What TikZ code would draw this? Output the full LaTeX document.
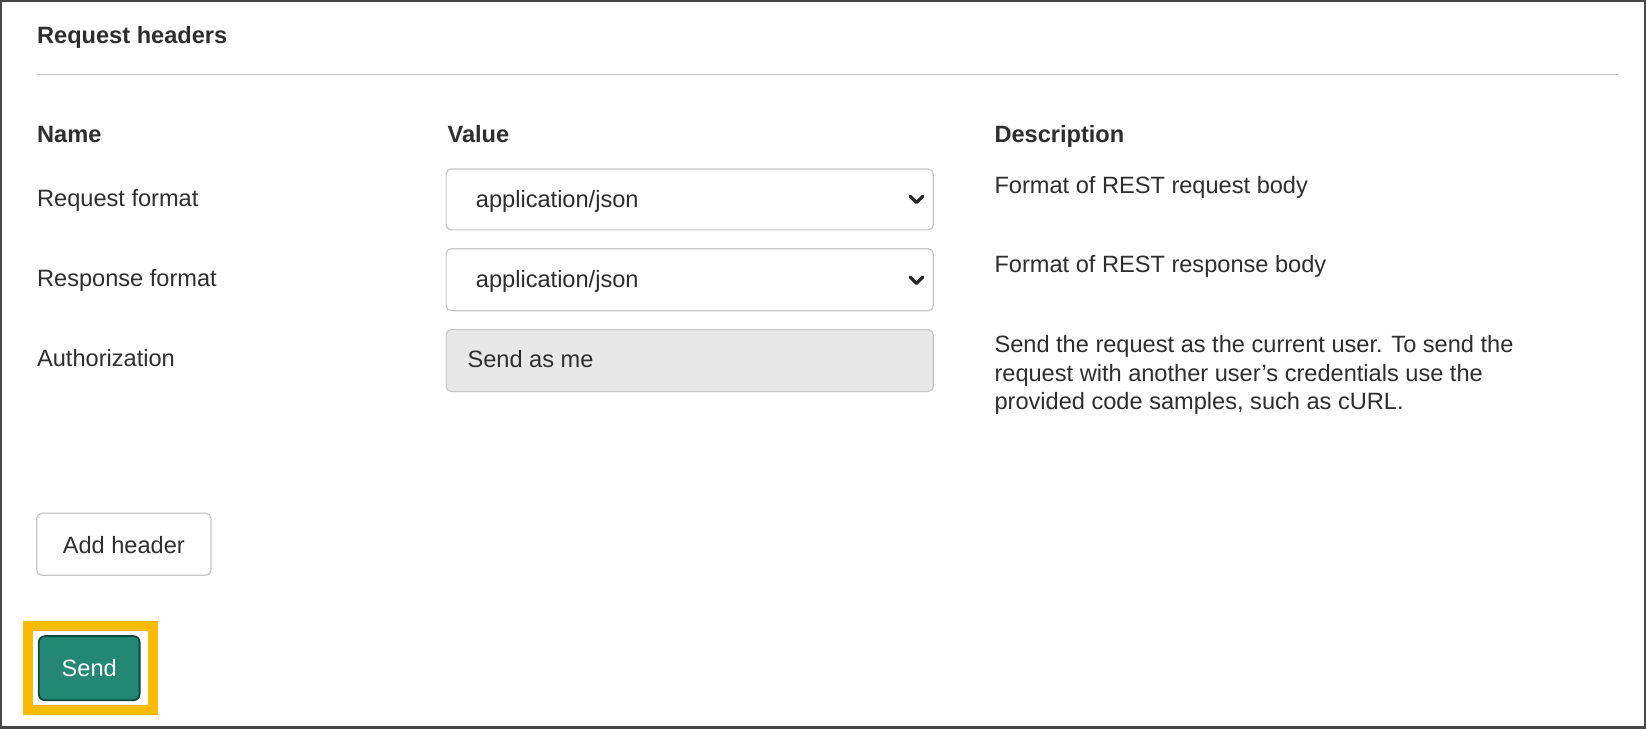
\documentclass[tikz,border=0pt]{standalone}
\usepackage{fontspec}
\setmainfont{Liberation Sans}
\begin{document}
\begin{tikzpicture}[x=0.525pt,y=-0.525pt,
  txt/.style={anchor=base west,inner sep=0pt,text=black!82,font=\fontsize{11.8}{14}\selectfont},
  hd/.style={txt,font=\fontsize{11.8}{14}\selectfont\bfseries},
  fld/.style={draw=black!22,line width=0.6pt,rounded corners=2.5pt},
  chev/.style={line width=1.6pt,black!85,line cap=round,line join=round}]
\useasboundingbox (0,0) rectangle (1568,694);
\fill[white] (0,0) rectangle (1568,694);
\draw[black!72,line width=1.1pt] (1,1) rectangle (1567,693);
\node[hd] (title) at (35,41) {Request headers};
\draw[black!22,line width=0.6pt] (35,71) -- (1541,71);
\node[hd] (hname) at (35,136) {Name};
\node[hd] (hval) at (426,136) {Value};
\node[hd] (hdesc) at (947,136) {Description};
\node[txt] (l1) at (35,197) {Request format};
\node[txt] (l2) at (35,273) {Response format};
\node[txt] (l3) at (35,349) {Authorization};
\draw[fld,fill=white] (425,161) rectangle (889,219);
\draw[fld,fill=white] (425,237) rectangle (889,296);
\draw[fld,fill=black!9] (425,314) rectangle (889,373);
\node[txt] (v1) at (453,198) {application/json};
\node[txt] (v2) at (453,274) {application/json};
\node[txt] (v3) at (445,350) {Send as me};
\draw[chev] (867,187) -- (873,193) -- (879,187);
\draw[chev] (867,264) -- (873,270) -- (879,264);
\node[txt] (d1) at (947,184) {Format of REST request body};
\node[txt] (d2) at (947,260) {Format of REST response body};
\node[txt] (d3) at (947,336) {Send the request as the current user. To send the};
\node[txt] (d4) at (947,363) {request with another user’s credentials use the};
\node[txt] (d5) at (947,390) {provided code samples, such as cURL.};
\draw[fld,fill=white] (35,489) rectangle (201,548);
\node[txt,anchor=center] (add) at (118,519) {Add header};
\draw[draw={rgb,255:red,252;green,186;blue,3},line width=5pt] (26.5,596.5) rectangle (145.5,676.5);
\draw[draw={rgb,255:red,16;green,72;blue,62},fill={rgb,255:red,35;green,135;blue,116},line width=0.9pt,rounded corners=3pt] (37,606) rectangle (133,667);
\node[txt,anchor=center,text=white] (send) at (85,636) {Send};
\end{tikzpicture}
\end{document}
